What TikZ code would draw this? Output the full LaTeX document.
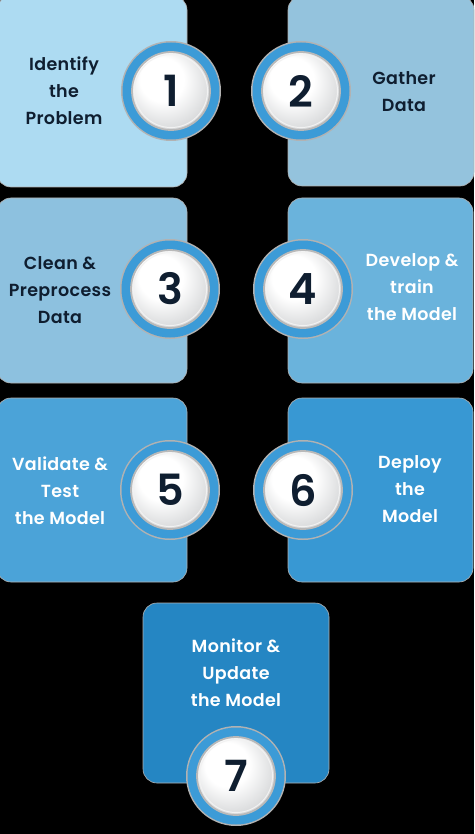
\documentclass[tikz,border=0pt]{standalone}
\usepackage{fontspec}
\setmainfont{Poppins}[BoldFont={Poppins SemiBold}]
\usetikzlibrary{shadings}
\definecolor{bgc}{HTML}{000000}
\definecolor{cA}{HTML}{ADDBF2}
\definecolor{cB}{HTML}{94C3DD}
\definecolor{cC}{HTML}{8DC1DF}
\definecolor{cD}{HTML}{6AB3DC}
\definecolor{cE}{HTML}{4BA3D8}
\definecolor{cF}{HTML}{3898D3}
\definecolor{cG}{HTML}{2586C3}
\definecolor{ringblue}{HTML}{3C9BD7}
\definecolor{navy}{HTML}{0F1E30}
\definecolor{discedge}{HTML}{C4C6C8}
\pgfdeclareradialshading{discshade}{\pgfpoint{-8bp}{10bp}}{color(0bp)=(white); color(14bp)=(white); color(30bp)=(discedge!70); color(50bp)=(discedge)}
\tikzset{
  stepbox/.style={rounded corners=14pt, draw=gray!60, line width=0.6pt},
  label/.style={align=center, font=\bfseries\fontsize{17.5}{27}\addfontfeatures{LetterSpace=2}\selectfont},
  numtxt/.style={font=\bfseries\fontsize{43}{43}\selectfont, text=navy},
}
\newcommand{\stepcirc}[3]{%
  \fill[gray!60] (#1,#2) circle[radius=50];
  \fill[ringblue] (#1,#2) circle[radius=48.5];
  \draw[gray!55, line width=1.8pt, shading=discshade] (#1,#2) circle[radius=39];
  \draw[white!90!gray, line width=1pt] (#1,#2) circle[radius=36.5];
  \node[numtxt] (c#3) at (#1,#2) {#3};
}
\begin{document}
\begin{tikzpicture}[x=1pt,y=-1pt]
\useasboundingbox (0,0) rectangle (474,834);
\fill[bgc] (0,0) rectangle (474,834);
% boxes
\draw[stepbox, fill=cA] (-3,-4) rectangle (187,187);
\draw[stepbox, fill=cB] (288,-4) rectangle (474,186);
\draw[stepbox, fill=cC] (-3,198) rectangle (187,383);
\draw[stepbox, fill=cD] (288,198) rectangle (473,383);
\draw[stepbox, fill=cE] (-3,398) rectangle (187,582);
\draw[stepbox, fill=cF] (288,398) rectangle (473,582);
\draw[stepbox, fill=cG] (143,603) rectangle (329,783);
% labels
\node[label, text=navy] (t1) at (64,91) {Identify\\the\\Problem};
\node[label, text=navy] (t2) at (404,92) {Gather\\Data};
\node[label, text=navy] (t3) at (60,290) {Clean \&\\Preprocess\\Data};
\node[label, text=white] (t4) at (412,287) {Develop \&\\train\\the Model};
\node[label, text=white] (t5) at (60,491) {Validate \&\\Test\\the Model};
\node[label, text=white] (t6) at (410,489) {Deploy\\the\\Model};
\node[label, text=white] (t7) at (236,673) {Monitor \&\\Update\\the Model};
% circles
\stepcirc{171}{91}{1}
\stepcirc{301}{91}{2}
\stepcirc{170}{289}{3}
\stepcirc{303}{289}{4}
\stepcirc{170}{490}{5}
\stepcirc{303}{490}{6}
\stepcirc{236}{776}{7}
\end{tikzpicture}
\end{document}
